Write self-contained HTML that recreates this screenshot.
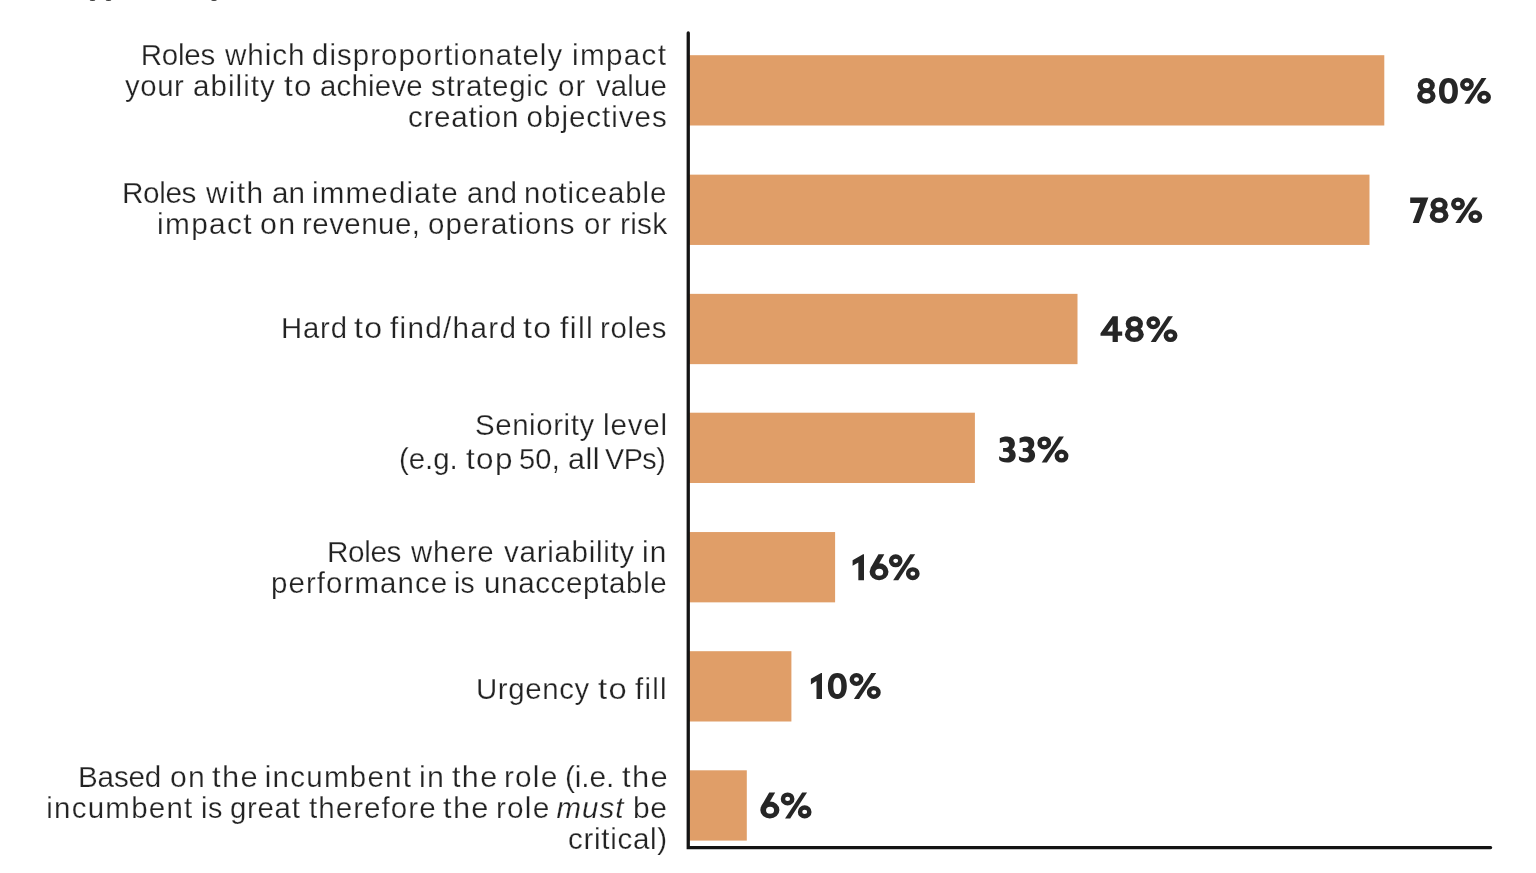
<!DOCTYPE html>
<html lang="en"><head><meta charset="utf-8"><title>Critical roles survey chart</title>
<style>
html,body{margin:0;padding:0;background:#fff;}
body{width:1536px;height:873px;position:relative;overflow:hidden;font-family:"Liberation Sans",sans-serif;}
.l{position:absolute;display:block;white-space:nowrap;font-size:29.5px;line-height:32px;color:#222;-webkit-text-stroke:0.25px #fff;transform-origin:0 0;}
.v{position:absolute;display:block;white-space:nowrap;font-size:34px;line-height:36px;font-weight:bold;color:transparent;}
</style></head><body>
<svg width="1536" height="873" viewBox="0 0 1536 873" style="position:absolute;left:0;top:0">
<g fill="#e09e68">
<rect x="688" y="55.20" width="696.30" height="70.3"/>
<rect x="688" y="174.65" width="681.50" height="70.3"/>
<rect x="688" y="293.85" width="389.50" height="70.3"/>
<rect x="688" y="412.70" width="286.90" height="70.3"/>
<rect x="688" y="532.05" width="147.10" height="70.3"/>
<rect x="688" y="651.20" width="103.40" height="70.3"/>
<rect x="688" y="770.30" width="58.80" height="70.3"/>
</g>
<path d="M688.25 32.9 V847.55 H1490.6" fill="none" stroke="#141414" stroke-width="3.3" stroke-linecap="round" stroke-linejoin="miter"/>
<g transform="translate(1417.10,78.10) scale(0.9840,0.9884)"><ellipse cx="9.4" cy="7.4" rx="8.6" ry="7.4" fill="#262626"/><ellipse cx="9.4" cy="18.2" rx="9.4" ry="7.7" fill="#262626"/><ellipse cx="9.4" cy="7.4" rx="3.55" ry="2.8" fill="#fff"/><ellipse cx="9.4" cy="18.2" rx="4.2" ry="3.1" fill="#fff"/></g>
<g transform="translate(1439.00,78.10) scale(1.0000,0.9846)"><path fill="#262626" fill-rule="evenodd" d="M0,13 C0,4.5 3.6,0 9.45,0 C15.3,0 18.9,4.5 18.9,13 C18.9,21.5 15.3,26 9.45,26 C3.6,26 0,21.5 0,13 Z M5.45,13 C5.45,18.6 6.9,21.2 9.45,21.2 C12,21.2 13.45,18.6 13.45,13 C13.45,7.4 12,4.8 9.45,4.8 C6.9,4.8 5.45,7.4 5.45,13 Z"/></g>
<g transform="translate(1460.00,78.10) scale(0.9904,0.9884)"><path fill="#262626" fill-rule="evenodd" d="M0.04999999999999982,6.5 a6.95,6.5 0 1,0 13.9,0 a6.95,6.5 0 1,0 -13.9,0 Z M4.5,6.5 a2.5,2.15 0 1,0 5.0,0 a2.5,2.15 0 1,0 -5.0,0 Z M17.35,19.4 a6.95,6.5 0 1,0 13.9,0 a6.95,6.5 0 1,0 -13.9,0 Z M21.8,19.4 a2.5,2.15 0 1,0 5.0,0 a2.5,2.15 0 1,0 -5.0,0 Z"/><polygon points="21.7,0 26.7,0 9.6,25.9 4.4,25.9" fill="#262626"/></g>
<g transform="translate(1410.20,197.50) scale(1.0000,0.9846)"><polygon points="0,0 18.2,0 8.7,25.9 2.5,25.9 10.0,5.5 0,5.5" fill="#262626"/></g>
<g transform="translate(1429.70,197.50) scale(1.0000,0.9846)"><ellipse cx="9.4" cy="7.4" rx="8.6" ry="7.4" fill="#262626"/><ellipse cx="9.4" cy="18.2" rx="9.4" ry="7.7" fill="#262626"/><ellipse cx="9.4" cy="7.4" rx="3.55" ry="2.8" fill="#fff"/><ellipse cx="9.4" cy="18.2" rx="4.2" ry="3.1" fill="#fff"/></g>
<g transform="translate(1451.00,197.50) scale(1.0000,0.9846)"><path fill="#262626" fill-rule="evenodd" d="M0.04999999999999982,6.5 a6.95,6.5 0 1,0 13.9,0 a6.95,6.5 0 1,0 -13.9,0 Z M4.5,6.5 a2.5,2.15 0 1,0 5.0,0 a2.5,2.15 0 1,0 -5.0,0 Z M17.35,19.4 a6.95,6.5 0 1,0 13.9,0 a6.95,6.5 0 1,0 -13.9,0 Z M21.8,19.4 a2.5,2.15 0 1,0 5.0,0 a2.5,2.15 0 1,0 -5.0,0 Z"/><polygon points="21.7,0 26.7,0 9.6,25.9 4.4,25.9" fill="#262626"/></g>
<g transform="translate(1100.50,316.30) scale(1.0023,1.0000)"><path fill="#262626" fill-rule="evenodd" d="M12.06,0 H17.3 V15.3 H21.65 V19.4 H17.3 V25.8 H12.06 V19.4 H0 V16.9 Z M12.06,8.0 V15.3 H7.0 Z"/></g>
<g transform="translate(1124.90,316.30) scale(1.0053,0.9961)"><ellipse cx="9.4" cy="7.4" rx="8.6" ry="7.4" fill="#262626"/><ellipse cx="9.4" cy="18.2" rx="9.4" ry="7.7" fill="#262626"/><ellipse cx="9.4" cy="7.4" rx="3.55" ry="2.8" fill="#fff"/><ellipse cx="9.4" cy="18.2" rx="4.2" ry="3.1" fill="#fff"/></g>
<g transform="translate(1146.30,316.30) scale(0.9968,0.9961)"><path fill="#262626" fill-rule="evenodd" d="M0.04999999999999982,6.5 a6.95,6.5 0 1,0 13.9,0 a6.95,6.5 0 1,0 -13.9,0 Z M4.5,6.5 a2.5,2.15 0 1,0 5.0,0 a2.5,2.15 0 1,0 -5.0,0 Z M17.35,19.4 a6.95,6.5 0 1,0 13.9,0 a6.95,6.5 0 1,0 -13.9,0 Z M21.8,19.4 a2.5,2.15 0 1,0 5.0,0 a2.5,2.15 0 1,0 -5.0,0 Z"/><polygon points="21.7,0 26.7,0 9.6,25.9 4.4,25.9" fill="#262626"/></g>
<g transform="translate(999.00,436.40) scale(1.0183,0.9962)"><path fill="#262626" d="M0.8,1.9 C2.5,0.6 5.2,0 8.0,0 C12.6,0 15.6,3.0 15.6,7.2 C15.6,9.9 14.5,11.9 12.9,13.0 C15.0,14.1 16.4,16.2 16.4,18.8 C16.4,23.3 12.9,26.3 7.9,26.3 C4.6,26.3 1.9,25.2 0.3,23.5 L0,19.9 C1.6,21.2 3.6,21.9 6.2,21.9 C8.6,21.9 10.2,20.5 10.2,18.5 C10.2,16.5 8.8,15.4 6.6,15.4 L4.0,15.4 L4.0,11.6 L6.4,11.6 C8.5,11.6 9.9,10.5 9.9,8.5 C9.9,6.6 8.6,5.3 6.6,5.3 C4.6,5.3 2.6,5.7 0.8,6.6 Z"/></g>
<g transform="translate(1018.80,436.40) scale(0.9939,0.9962)"><path fill="#262626" d="M0.8,1.9 C2.5,0.6 5.2,0 8.0,0 C12.6,0 15.6,3.0 15.6,7.2 C15.6,9.9 14.5,11.9 12.9,13.0 C15.0,14.1 16.4,16.2 16.4,18.8 C16.4,23.3 12.9,26.3 7.9,26.3 C4.6,26.3 1.9,25.2 0.3,23.5 L0,19.9 C1.6,21.2 3.6,21.9 6.2,21.9 C8.6,21.9 10.2,20.5 10.2,18.5 C10.2,16.5 8.8,15.4 6.6,15.4 L4.0,15.4 L4.0,11.6 L6.4,11.6 C8.5,11.6 9.9,10.5 9.9,8.5 C9.9,6.6 8.6,5.3 6.6,5.3 C4.6,5.3 2.6,5.7 0.8,6.6 Z"/></g>
<g transform="translate(1037.30,436.40) scale(0.9968,1.0116)"><path fill="#262626" fill-rule="evenodd" d="M0.04999999999999982,6.5 a6.95,6.5 0 1,0 13.9,0 a6.95,6.5 0 1,0 -13.9,0 Z M4.5,6.5 a2.5,2.15 0 1,0 5.0,0 a2.5,2.15 0 1,0 -5.0,0 Z M17.35,19.4 a6.95,6.5 0 1,0 13.9,0 a6.95,6.5 0 1,0 -13.9,0 Z M21.8,19.4 a2.5,2.15 0 1,0 5.0,0 a2.5,2.15 0 1,0 -5.0,0 Z"/><polygon points="21.7,0 26.7,0 9.6,25.9 4.4,25.9" fill="#262626"/></g>
<g transform="translate(852.60,554.30) scale(1.0270,1.0117)"><polygon points="11.1,0 11.1,25.6 5.6,25.6 5.6,8.0 0,11.4 0,5.8 10.2,0" fill="#262626"/></g>
<g transform="translate(869.60,554.30) scale(0.9895,0.9923)"><polygon points="8.9,0 14.9,0 6.9,14 1.04,13.74" fill="#262626"/><path fill="#262626" fill-rule="evenodd" d="M0,17.6 a9.55,8.5 0 1,0 19.1,0 a9.55,8.5 0 1,0 -19.1,0 Z M5.75,18.0 a4.0,3.55 0 1,0 8.0,0 a4.0,3.55 0 1,0 -8.0,0 Z"/></g>
<g transform="translate(888.80,554.30) scale(0.9872,1.0000)"><path fill="#262626" fill-rule="evenodd" d="M0.04999999999999982,6.5 a6.95,6.5 0 1,0 13.9,0 a6.95,6.5 0 1,0 -13.9,0 Z M4.5,6.5 a2.5,2.15 0 1,0 5.0,0 a2.5,2.15 0 1,0 -5.0,0 Z M17.35,19.4 a6.95,6.5 0 1,0 13.9,0 a6.95,6.5 0 1,0 -13.9,0 Z M21.8,19.4 a2.5,2.15 0 1,0 5.0,0 a2.5,2.15 0 1,0 -5.0,0 Z"/><polygon points="21.7,0 26.7,0 9.6,25.9 4.4,25.9" fill="#262626"/></g>
<g transform="translate(810.90,673.00) scale(1.0000,1.0117)"><polygon points="11.1,0 11.1,25.6 5.6,25.6 5.6,8.0 0,11.4 0,5.8 10.2,0" fill="#262626"/></g>
<g transform="translate(827.90,673.00) scale(1.0000,0.9962)"><path fill="#262626" fill-rule="evenodd" d="M0,13 C0,4.5 3.6,0 9.45,0 C15.3,0 18.9,4.5 18.9,13 C18.9,21.5 15.3,26 9.45,26 C3.6,26 0,21.5 0,13 Z M5.45,13 C5.45,18.6 6.9,21.2 9.45,21.2 C12,21.2 13.45,18.6 13.45,13 C13.45,7.4 12,4.8 9.45,4.8 C6.9,4.8 5.45,7.4 5.45,13 Z"/></g>
<g transform="translate(849.50,673.00) scale(1.0000,1.0000)"><path fill="#262626" fill-rule="evenodd" d="M0.04999999999999982,6.5 a6.95,6.5 0 1,0 13.9,0 a6.95,6.5 0 1,0 -13.9,0 Z M4.5,6.5 a2.5,2.15 0 1,0 5.0,0 a2.5,2.15 0 1,0 -5.0,0 Z M17.35,19.4 a6.95,6.5 0 1,0 13.9,0 a6.95,6.5 0 1,0 -13.9,0 Z M21.8,19.4 a2.5,2.15 0 1,0 5.0,0 a2.5,2.15 0 1,0 -5.0,0 Z"/><polygon points="21.7,0 26.7,0 9.6,25.9 4.4,25.9" fill="#262626"/></g>
<g transform="translate(760.30,792.40) scale(1.0000,0.9962)"><polygon points="8.9,0 14.9,0 6.9,14 1.04,13.74" fill="#262626"/><path fill="#262626" fill-rule="evenodd" d="M0,17.6 a9.55,8.5 0 1,0 19.1,0 a9.55,8.5 0 1,0 -19.1,0 Z M5.75,18.0 a4.0,3.55 0 1,0 8.0,0 a4.0,3.55 0 1,0 -8.0,0 Z"/></g>
<g transform="translate(780.70,792.40) scale(0.9872,1.0039)"><path fill="#262626" fill-rule="evenodd" d="M0.04999999999999982,6.5 a6.95,6.5 0 1,0 13.9,0 a6.95,6.5 0 1,0 -13.9,0 Z M4.5,6.5 a2.5,2.15 0 1,0 5.0,0 a2.5,2.15 0 1,0 -5.0,0 Z M17.35,19.4 a6.95,6.5 0 1,0 13.9,0 a6.95,6.5 0 1,0 -13.9,0 Z M21.8,19.4 a2.5,2.15 0 1,0 5.0,0 a2.5,2.15 0 1,0 -5.0,0 Z"/><polygon points="21.7,0 26.7,0 9.6,25.9 4.4,25.9" fill="#262626"/></g>
<g fill="#3a3a3a">
<ellipse cx="92.5" cy="0" rx="2.8" ry="1.1"/>
<ellipse cx="108.5" cy="0" rx="2.8" ry="1.1"/>
<ellipse cx="214" cy="0" rx="2.8" ry="1.1"/>
</g>
</svg>
<div style="position:absolute;left:0;top:0;width:1536px;height:873px;will-change:transform">
<span class="l" style="left:140.8px;top:39.0px;letter-spacing:-0.25px;transform:scaleX(1.0000)">Roles</span>
<span class="l" style="left:224.8px;top:39.0px;letter-spacing:0.88px;transform:scaleX(1.0065)">which</span>
<span class="l" style="left:311.7px;top:39.0px;letter-spacing:1.04px;transform:scaleX(0.9984)">disproportionately</span>
<span class="l" style="left:572.1px;top:39.0px;letter-spacing:1.30px;transform:scaleX(1.0055)">impact</span>
<span class="l" style="left:125.1px;top:70.0px;letter-spacing:0.57px;transform:scaleX(0.9949)">your</span>
<span class="l" style="left:192.8px;top:70.0px;letter-spacing:1.03px;transform:scaleX(1.0025)">ability</span>
<span class="l" style="left:284.0px;top:70.0px;letter-spacing:1.30px;transform:scaleX(1.0625)">to</span>
<span class="l" style="left:319.5px;top:70.0px;letter-spacing:0.25px;transform:scaleX(0.9950)">achieve</span>
<span class="l" style="left:431.3px;top:70.0px;letter-spacing:0.74px;transform:scaleX(0.9991)">strategic</span>
<span class="l" style="left:557.6px;top:70.0px;letter-spacing:1.10px;transform:scaleX(1.0038)">or</span>
<span class="l" style="left:595.6px;top:70.0px;letter-spacing:0.17px;transform:scaleX(0.9957)">value</span>
<span class="l" style="left:408.1px;top:101.0px;letter-spacing:0.74px;transform:scaleX(1.0019)">creation</span>
<span class="l" style="left:526.6px;top:101.0px;letter-spacing:1.00px;transform:scaleX(1.0000)">objectives</span>
<span class="l" style="left:121.7px;top:177.0px;letter-spacing:-0.38px;transform:scaleX(1.0070)">Roles</span>
<span class="l" style="left:206.1px;top:177.0px;letter-spacing:1.30px;transform:scaleX(1.0109)">with</span>
<span class="l" style="left:271.7px;top:177.0px;letter-spacing:0.10px;transform:scaleX(1.0033)">an</span>
<span class="l" style="left:312.2px;top:177.0px;letter-spacing:1.16px;transform:scaleX(1.0021)">immediate</span>
<span class="l" style="left:466.5px;top:177.0px;letter-spacing:0.70px;transform:scaleX(0.9875)">and</span>
<span class="l" style="left:523.8px;top:177.0px;letter-spacing:0.93px;transform:scaleX(0.9957)">noticeable</span>
<span class="l" style="left:156.7px;top:208.0px;letter-spacing:1.30px;transform:scaleX(1.0121)">impact</span>
<span class="l" style="left:259.8px;top:208.0px;letter-spacing:1.30px;transform:scaleX(1.0290)">on</span>
<span class="l" style="left:301.7px;top:208.0px;letter-spacing:0.51px;transform:scaleX(0.9965)">revenue,</span>
<span class="l" style="left:428.2px;top:208.0px;letter-spacing:0.99px;transform:scaleX(0.9993)">operations</span>
<span class="l" style="left:583.7px;top:208.0px;letter-spacing:0.90px;transform:scaleX(0.9962)">or</span>
<span class="l" style="left:619.5px;top:208.0px;letter-spacing:0.23px;transform:scaleX(1.0159)">risk</span>
<span class="l" style="left:280.8px;top:312.0px;letter-spacing:0.83px;transform:scaleX(0.9921)">Hard</span>
<span class="l" style="left:354.2px;top:312.0px;letter-spacing:1.30px;transform:scaleX(1.0875)">to</span>
<span class="l" style="left:390.4px;top:312.0px;letter-spacing:1.30px;transform:scaleX(1.0057)">find/hard</span>
<span class="l" style="left:523.2px;top:312.0px;letter-spacing:1.30px;transform:scaleX(1.0875)">to</span>
<span class="l" style="left:559.9px;top:312.0px;letter-spacing:1.30px;transform:scaleX(1.0345)">fill</span>
<span class="l" style="left:599.8px;top:312.0px;letter-spacing:0.70px;transform:scaleX(0.9969)">roles</span>
<span class="l" style="left:474.6px;top:409.0px;letter-spacing:0.59px;transform:scaleX(0.9975)">Seniority</span>
<span class="l" style="left:602.6px;top:409.0px;letter-spacing:0.80px;transform:scaleX(1.0033)">level</span>
<span class="l" style="left:399.4px;top:443.0px;letter-spacing:-0.05px;transform:scaleX(0.9963)">(e.g.</span>
<span class="l" style="left:466.0px;top:443.0px;letter-spacing:1.30px;transform:scaleX(1.0659)">top</span>
<span class="l" style="left:518.8px;top:443.0px;letter-spacing:0.20px;transform:scaleX(0.9838)">50,</span>
<span class="l" style="left:568.1px;top:443.0px;letter-spacing:0.45px;transform:scaleX(1.0333)">all</span>
<span class="l" style="left:605.4px;top:443.0px;letter-spacing:-0.50px;transform:scaleX(0.9733)">VPs)</span>
<span class="l" style="left:326.8px;top:536.0px;letter-spacing:-0.38px;transform:scaleX(1.0070)">Roles</span>
<span class="l" style="left:410.8px;top:536.0px;letter-spacing:0.67px;transform:scaleX(0.9963)">where</span>
<span class="l" style="left:503.6px;top:536.0px;letter-spacing:0.66px;transform:scaleX(1.0047)">variability</span>
<span class="l" style="left:642.3px;top:536.0px;letter-spacing:1.20px;transform:scaleX(1.0100)">in</span>
<span class="l" style="left:270.7px;top:567.0px;letter-spacing:1.08px;transform:scaleX(0.9988)">performance</span>
<span class="l" style="left:454.4px;top:567.0px;letter-spacing:0.20px;transform:scaleX(0.9579)">is</span>
<span class="l" style="left:484.0px;top:567.0px;letter-spacing:0.65px;transform:scaleX(1.0006)">unacceptable</span>
<span class="l" style="left:476.4px;top:673.0px;letter-spacing:0.62px;transform:scaleX(0.9973)">Urgency</span>
<span class="l" style="left:598.2px;top:673.0px;letter-spacing:1.30px;transform:scaleX(1.1083)">to</span>
<span class="l" style="left:634.9px;top:673.0px;letter-spacing:1.30px;transform:scaleX(0.9966)">fill</span>
<span class="l" style="left:78.1px;top:761.0px;letter-spacing:-0.17px;transform:scaleX(1.0038)">Based</span>
<span class="l" style="left:169.9px;top:761.0px;letter-spacing:1.30px;transform:scaleX(1.0226)">on</span>
<span class="l" style="left:212.2px;top:761.0px;letter-spacing:1.30px;transform:scaleX(1.0439)">the</span>
<span class="l" style="left:264.8px;top:761.0px;letter-spacing:1.25px;transform:scaleX(1.0000)">incumbent</span>
<span class="l" style="left:419.3px;top:761.0px;letter-spacing:1.30px;transform:scaleX(1.0300)">in</span>
<span class="l" style="left:451.7px;top:761.0px;letter-spacing:1.30px;transform:scaleX(1.0341)">the</span>
<span class="l" style="left:504.0px;top:761.0px;letter-spacing:1.17px;transform:scaleX(1.0102)">role</span>
<span class="l" style="left:565.0px;top:761.0px;letter-spacing:-0.12px;transform:scaleX(1.0114)">(i.e.</span>
<span class="l" style="left:621.6px;top:761.0px;letter-spacing:1.30px;transform:scaleX(1.0463)">the</span>
<span class="l" style="left:46.2px;top:792.0px;letter-spacing:1.25px;transform:scaleX(1.0000)">incumbent</span>
<span class="l" style="left:200.8px;top:792.0px;letter-spacing:0.60px;transform:scaleX(0.9789)">is</span>
<span class="l" style="left:230.4px;top:792.0px;letter-spacing:0.70px;transform:scaleX(0.9971)">great</span>
<span class="l" style="left:308.8px;top:792.0px;letter-spacing:1.04px;transform:scaleX(1.0024)">therefore</span>
<span class="l" style="left:443.1px;top:792.0px;letter-spacing:1.30px;transform:scaleX(1.0415)">the</span>
<span class="l" style="left:495.6px;top:792.0px;letter-spacing:1.17px;transform:scaleX(1.0102)">role</span>
<span class="l" style="left:556.5px;top:792.0px;letter-spacing:1.00px;transform:scaleX(1.0000)"><i>must</i></span>
<span class="l" style="left:633.0px;top:792.0px;letter-spacing:0.50px;transform:scaleX(1.0167)">be</span>
<span class="l" style="left:567.5px;top:823.0px;letter-spacing:0.67px;transform:scaleX(1.0042)">critical)</span>
<span class="v" style="left:1417px;top:72px">80%</span>
<span class="v" style="left:1410px;top:192px">78%</span>
<span class="v" style="left:1100px;top:310px">48%</span>
<span class="v" style="left:999px;top:430px">33%</span>
<span class="v" style="left:853px;top:548px">16%</span>
<span class="v" style="left:811px;top:667px">10%</span>
<span class="v" style="left:760px;top:786px">6%</span>
</div>
</body></html>
